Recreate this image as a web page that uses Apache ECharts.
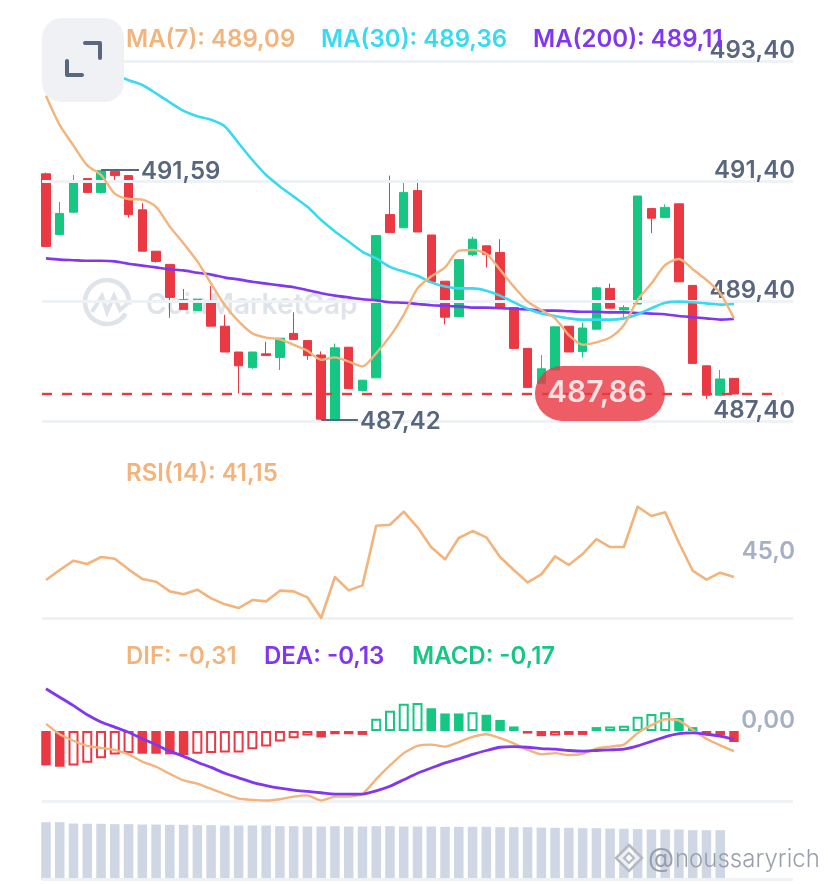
<!DOCTYPE html>
<html><head><meta charset="utf-8">
<style>html,body{margin:0;padding:0;background:#fff}#c{width:828px;height:884px}</style>
<script src="https://cdn.jsdelivr.net/npm/echarts@6/dist/echarts.min.js"></script>
</head><body><div id="c"></div>
<script>
// [open, close, low, high]
const candles = [
[491.52,490.31,490.31,491.54],[490.51,490.86,490.51,491.05],[490.88,491.40,490.86,491.50],[491.44,491.21,491.21,491.44],
[491.21,491.57,491.19,491.57],[491.56,491.49,491.39,491.59],[491.49,490.84,490.79,491.49],[490.92,490.23,490.23,491.03],
[490.23,490.06,490.04,490.23],[490.01,489.46,489.12,490.01],[489.42,489.26,489.26,489.60],[489.24,489.43,489.24,489.43],
[489.41,488.98,488.98,489.65],[488.98,488.55,488.55,489.17],[488.55,488.32,487.86,488.55],[488.29,488.55,488.27,488.55],
[488.52,488.49,488.49,488.72],[488.46,488.78,488.25,488.78],[488.86,488.76,488.75,489.21],[488.74,488.49,488.42,488.74],
[488.50,487.43,487.42,488.56],[487.43,488.62,487.42,488.69],[488.63,487.94,487.94,488.63],[487.91,488.08,487.89,488.08],
[488.12,490.49,488.12,490.49],[490.84,490.54,490.54,491.49],[490.62,491.21,490.62,491.38],[491.24,490.55,490.55,491.42],
[490.50,489.72,489.72,490.50],[489.73,489.13,489.01,489.73],[489.14,490.09,489.14,490.09],[490.17,490.43,490.15,490.47],
[490.32,490.18,489.96,490.32],[490.21,489.29,489.29,490.43],[489.29,488.61,488.61,489.29],[488.61,487.96,487.96,488.61],
[488.03,488.27,488.03,488.50],[488.25,488.97,488.25,488.97],[488.98,488.55,488.55,488.98],[488.56,488.95,488.46,489.04],
[488.93,489.62,488.93,489.64],[489.61,489.28,489.28,489.69],[489.25,489.29,489.08,489.33],[489.35,491.15,489.35,491.15],
[490.94,490.78,490.53,490.94],[490.79,490.96,490.79,491.01],[491.02,489.72,489.72,491.02],[489.66,488.36,488.36,489.66],
[488.32,487.83,487.77,488.32],[487.83,488.10,487.83,488.25],[488.11,487.85,487.85,488.11]];
const ma7 = [492.82,492.33,491.99,491.66,491.50,491.19,491.10,491.09,490.97,490.64,490.36,490.06,489.69,489.33,489.06,488.86,488.79,488.76,488.67,488.57,488.42,488.46,488.39,488.31,488.53,488.81,489.17,489.61,489.81,489.96,490.24,490.25,490.19,489.92,489.64,489.39,489.25,489.11,488.83,488.67,488.71,488.79,489.00,489.42,489.69,490.00,490.10,489.93,489.75,489.53,489.11];
const ma30 = [null,null,null,null,null,493.17,493.08,493.00,492.86,492.71,492.57,492.48,492.42,492.31,492.03,491.75,491.50,491.31,491.14,490.97,490.75,490.56,490.39,490.22,490.11,489.97,489.89,489.82,489.71,489.64,489.61,489.61,489.57,489.49,489.38,489.27,489.19,489.15,489.11,489.09,489.09,489.09,489.11,489.18,489.28,489.37,489.39,489.38,489.36,489.34,489.35];
const ma200 = [490.11,490.09,490.08,490.07,490.07,490.06,490.02,489.99,489.96,489.93,489.91,489.87,489.84,489.79,489.76,489.72,489.69,489.66,489.63,489.58,489.53,489.49,489.46,489.43,489.41,489.38,489.37,489.35,489.33,489.32,489.31,489.29,489.29,489.28,489.27,489.26,489.24,489.24,489.23,489.22,489.22,489.21,489.21,489.20,489.19,489.18,489.15,489.13,489.11,489.09,489.10];
const rsi = [40.38,42.94,45.34,44.48,46.28,45.85,43.12,40.64,39.95,37.47,36.71,37.90,35.68,34.14,33.20,35.25,34.91,37.65,37.47,35.94,30.64,41.15,37.73,39.01,54.31,54.57,57.90,53.89,48.76,45.68,51.15,52.94,51.32,46.28,42.94,39.78,41.83,46.45,44.23,47.05,50.89,48.84,48.84,59.18,56.79,57.73,49.95,42.77,40.47,42.26,41.15];
const dif = [.11,-.05,-.15,-.23,-.26,-.29,-.36,-.47,-.55,-.66,-.76,-.81,-.89,-.97,-1.04,-1.06,-1.07,-1.05,-1.01,-.99,-1.07,-1.01,-1.01,-.97,-.74,-.53,-.34,-.23,-.21,-.24,-.17,-.09,-.05,-.11,-.19,-.29,-.36,-.34,-.37,-.35,-.27,-.24,-.21,-.03,.09,.18,.16,.02,-.12,-.22,-.31];
const dea = [.65,.52,.39,.25,.14,.06,-.02,-.12,-.21,-.31,-.39,-.48,-.56,-.65,-.72,-.79,-.84,-.88,-.91,-.93,-.95,-.97,-.97,-.97,-.92,-.85,-.75,-.65,-.57,-.49,-.43,-.36,-.30,-.25,-.24,-.25,-.27,-.28,-.30,-.31,-.30,-.29,-.28,-.23,-.16,-.09,-.04,-.03,-.05,-.08,-.13];
const macd = [-.53,-.55,-.53,-.49,-.42,-.36,-.34,-.35,-.35,-.36,-.37,-.35,-.34,-.33,-.33,-.28,-.24,-.16,-.11,-.07,-.10,-.05,-.05,-.06,.19,.31,.42,.43,.35,.27,.27,.29,.25,.17,.07,-.04,-.08,-.07,-.06,-.06,.06,.07,.08,.22,.26,.29,.20,.06,-.05,-.07,-.17];
const macdHollow = [0,0,1,1,1,1,1,0,0,0,0,1,1,1,1,1,1,1,1,1,0,0,0,0,1,1,1,1,0,0,0,1,0,0,0,0,0,1,0,0,0,1,1,1,1,1,0,0,0,0,0];
const volume = [57.3,57.3,56,55.7,55.7,55.3,55.3,55,55,54.7,54.7,54.3,54.3,54,54,54,54,53.3,53.3,53,53,53.3,53,53,53.3,53.3,53,53,53,52.7,52.7,52.7,52.7,52.3,52.3,52.3,52,51.7,51.7,51.3,51.3,51,50.7,50.3,50,50,50,49.3,49.3,49.3];
const priceTicks = [493.40,491.40,489.40,487.40];
const lastPrice = 487.86, highPrice = 491.59, lowPrice = 487.42;
const legendMain = ['MA(7): 489,09','MA(30): 489,36','MA(200): 489,11'];

const C = {orange:'#f2b47c',cyan:'#38daf0',purple:'#8136f0',red:'#ea3943',green:'#16c784',grid:'#eff2f5',tick:'#58667e',tick2:'#a6b0c3',vol:'#cfd6e4',wm:'#dfe3ea'};
const FONT = 'Inter, "Noto Sans", sans-serif';
const fmt = (v,d) => v.toFixed(d).replace('.',',');
const pair = a => a.map((v,i)=>[i,v]);
const xMin=-0.29, xMax=54.29;
const grids=[{left:42,width:751,top:61,height:360},{left:42,width:751,top:500,height:118},{left:42,width:751,top:680,height:121},{left:42,width:751,top:819.5,height:60}];
const ranges=[[487.4,493.4],[30.64,60.9],[-1.077,0.785],[0,60]];
// axis pair 4 shares the MACD grid so that hollow bars can have their own width
const xAxis=[0,1,2,3,2].map((g,i)=>({type:'value',gridIndex:g,min:xMin,max:xMax,show:false}));
const yAxis=[0,1,2,3,2].map(g=>({type:'value',gridIndex:g,min:ranges[g][0],max:ranges[g][1],show:false,scale:true}));
const gridLine=(y,label,color)=>({yAxis:y,lineStyle:{color:label&&color?'rgba(0,0,0,0)':C.grid,width:3,type:'solid'},
  label: label?{show:true,formatter:label,position:'insideEndTop',color:color||C.tick,fontFamily:FONT,fontSize:24,fontWeight:600,distance:-2}:{show:false}});
const gridSeries=(i,items)=>({type:'line',xAxisIndex:i,yAxisIndex:i,data:[],z:1,silent:true,showSymbol:false,
  markLine:{silent:true,symbol:'none',animation:false,precision:4,data:items}});
const lineS=(i,data,color,z,w,smooth)=>({type:'line',xAxisIndex:i,yAxisIndex:i,data:pair(data),showSymbol:false,smooth:smooth||false,z:z||5,connectNulls:false,
  lineStyle:{color,width:w||2.4,join:'round'},itemStyle:{color},silent:true,animation:false});
const leader=(x0,x1,y,txt)=>[{coord:[x0,y],lineStyle:{color:C.tick,width:2,type:'solid'},
   label:{show:true,position:'end',formatter:txt,color:C.tick,fontFamily:FONT,fontSize:24,fontWeight:600,distance:2,offset:[0,2]}},{coord:[x1,y]}];

const text=(x,y,t,color)=>({type:'text',x,y,z:60,style:{text:t,fill:color,font:'600 24px '+FONT,textVerticalAlign:'middle'}});
const iconStroke={stroke:C.tick,lineWidth:4,fill:null,lineCap:'round',lineJoin:'round'};
const diamond=(cx,cy,r,style,z)=>({type:'polygon',z,shape:{points:[[cx,cy-r],[cx+r,cy],[cx,cy+r],[cx-r,cy]]},style});
const graphic=[
 // CoinMarketCap watermark
 {type:'arc',z:0,shape:{cx:107,cy:302,r:22,startAngle:0.55,endAngle:0.12+Math.PI*2,clockwise:true},style:{stroke:C.wm,lineWidth:4.5,fill:null}},
 {type:'polyline',z:0,shape:{points:[[92,312],[102,296],[107,312],[114,296],[120,310],[127,304]]},style:{stroke:C.wm,lineWidth:4,fill:null}},
 {type:'text',z:0,x:146,y:306,style:{text:'CoinMarketCap',fill:C.wm,font:'600 28px '+FONT,textVerticalAlign:'middle'}},
 // legends
 text(126,40,legendMain[0],C.orange),text(321,40,legendMain[1],C.cyan),text(533,40,legendMain[2],C.purple),
 text(126,474,'RSI(14): 41,15',C.orange),
 text(126,657,'DIF: -0,31',C.orange),text(264,657,'DEA: -0,13',C.purple),text(412,657,'MACD: -0,17',C.green),
 // expand button
 {type:'rect',z:80,shape:{x:42,y:18,width:82,height:84,r:20},style:{fill:'#eff1f5'}},
 {type:'polyline',z:81,shape:{points:[[85,43],[100,43],[100,58]]},style:iconStroke},
 {type:'polyline',z:81,shape:{points:[[67,61],[67,75],[82,75]]},style:iconStroke},
 // author watermark
 diamond(629,858,13,{fill:'rgba(255,255,255,.6)',stroke:'#b4b8c0',lineWidth:2.5},90),
 diamond(629,858,5,{fill:'#fff',stroke:'#b4b8c0',lineWidth:2},91),
 {type:'text',z:90,x:648,y:859,style:{text:'@',fill:'#9aa0ab',font:'400 27px '+FONT,textVerticalAlign:'middle'}},
 {type:'text',z:90,x:675,y:860,style:{text:'noussaryrich',fill:'#9aa0ab',font:'300 24px '+FONT,textVerticalAlign:'middle'}}
];
const macdBars=(hollow)=>macd.map((v,i)=>{
  if(!!macdHollow[i]!==hollow) return [i,null];
  const col=v>=0?C.green:C.red;
  return {value:[i,v],itemStyle:hollow?{color:'#fff',borderColor:col,borderWidth:2}:{color:col}};
});
const option={animation:false,backgroundColor:'#fff',grid:grids,xAxis,yAxis,graphic,
 series:[
  gridSeries(0,priceTicks.map(v=>gridLine(v,fmt(v,2)))),
  gridSeries(1,[gridLine(45,'45,0',C.tick2),gridLine(30.64)]),
  gridSeries(2,[gridLine(0,'0,00',C.tick2),gridLine(-1.077)]),
  gridSeries(3,[gridLine(0)]),
  {type:'candlestick',xAxisIndex:0,yAxisIndex:0,barWidth:9,z:3,silent:true,clip:false,
   encode:{x:0,y:[1,2,3,4]},data:candles.map((c,i)=>[i,...c]),
   itemStyle:{color:C.green,color0:C.red,borderColor:C.green,borderColor0:C.red,borderWidth:1}},
  lineS(0,ma200,C.purple,5,2.6,.25),
  lineS(0,ma30,C.cyan,6,2.6,.25),
  Object.assign(lineS(0,ma7,C.orange,7,2.4,.25),{
    markLine:{silent:true,symbol:'none',animation:false,precision:4,data:[
      [{coord:[xMin,lastPrice],lineStyle:{color:C.red,width:2.4,type:[10,10]},label:{show:false}},{coord:[53.5,lastPrice]}],
      leader(4,6.76,highPrice,fmt(highPrice,2)),
      leader(20,22.67,lowPrice,fmt(lowPrice,2))]},
    markPoint:{silent:true,animation:false,z:20,data:[{coord:[40.26,lastPrice],
      symbol:'path://M27 0H103A27 27 0 0 1 103 54H27A27 27 0 0 1 27 0Z',symbolSize:[130,55],
      itemStyle:{color:C.red,opacity:.82},
      label:{show:true,position:'inside',formatter:fmt(lastPrice,2),color:'#fff',fontFamily:FONT,fontSize:30,fontWeight:600,offset:[-3,0]}}]}}),
  lineS(1,rsi,C.orange,5,2.6),
  {type:'bar',xAxisIndex:2,yAxisIndex:2,barWidth:9.5,z:3,silent:true,data:macdBars(false)},
  {type:'bar',xAxisIndex:4,yAxisIndex:4,barWidth:10,z:3,silent:true,data:macdBars(true)},
  lineS(2,dif,C.orange,5,2.4,.2),
  lineS(2,dea,C.purple,6,2.8,.2),
  {type:'bar',xAxisIndex:3,yAxisIndex:3,barWidth:9.5,z:3,silent:true,data:pair(volume),itemStyle:{color:C.vol}}
 ]};
echarts.init(document.getElementById('c'),null,{renderer:'canvas'}).setOption(option);
</script></body></html>
